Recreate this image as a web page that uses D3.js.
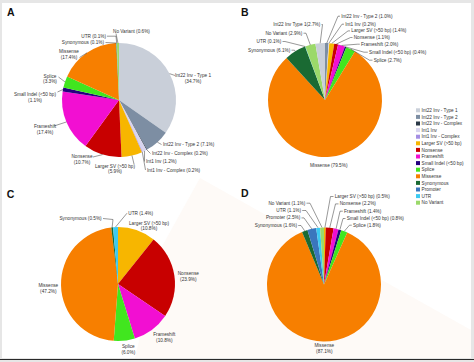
<!DOCTYPE html>
<html>
  <head>
    <meta charset="utf-8">
    <title>Variant pies</title>
    <style>
      body { margin: 0; }
      .lbl { font-family: "Liberation Sans", Arial, sans-serif; font-size: 4.7px; fill: #333; }
      .lead { fill: none; stroke: #333; stroke-width: 0.5px; }
      .letter { font-family: "Liberation Sans", Arial, sans-serif; font-size: 10.5px; font-weight: bold; fill: #111; }
    </style>
    <script src="https://cdn.jsdelivr.net/npm/d3@7"></script>
  </head>
  <body>
  <script type="text/javascript">
    // legend categories and their colours
    var legendCats = ["Int22 Inv - Type 1", "Int22 Inv - Type 2", "Int22 Inv - Complex", "Int1 Inv",
      "Int1 Inv - Complex", "Larger SV (>50 bp)", "Nonsense", "Frameshift", "Small Indel (<50 bp)",
      "Splice", "Missense", "Synonymous", "Promoter", "UTR", "No Variant"];
    var legendColors = ["#c9cfd9", "#7d8ea3", "#2b3947", "#d8d5ef", "#a48ee3", "#f7b600", "#c80000",
      "#f20fd2", "#23007f", "#41e61f", "#f77f00", "#1a6a33", "#3a76bd", "#3ccaf2", "#9bd96a"];

    // panel A
    var catsA = ["Int22 Inv - Type 1", "Int22 Inv - Type 2", "Int22 Inv - Complex", "Int1 Inv",
      "Int1 Inv - Complex", "Larger SV (>50 bp)", "Nonsense", "Frameshift", "Small Indel (<50 bp)",
      "Splice", "Missense", "Synonymous", "UTR", "No Variant"];
    var valsA = [34.7, 7.1, 0.2, 1.2, 0.2, 5.9, 10.7, 17.4, 1.1, 3.3, 17.4, 0.1, 0.1, 0.6];

    // panel B
    var catsB = ["Int22 Inv - Type 2", "Int1 Inv", "Larger SV (>50 bp)", "Nonsense", "Frameshift",
      "Small Indel (<50 bp)", "Splice", "Missense", "Synonymous", "UTR", "No Variant", "Int22 Inv - Type 1"];
    var valsB = [1.0, 0.2, 1.4, 1.1, 2.0, 0.4, 2.7, 79.5, 6.1, 0.1, 2.9, 2.7];

    // panel C
    var catsC = ["Larger SV (>50 bp)", "Nonsense", "Frameshift", "Splice", "Missense", "Synonymous", "UTR"];
    var valsC = [10.8, 23.9, 10.8, 6.0, 47.2, 0.5, 1.4];

    // panel D
    var catsD = ["Larger SV (>50 bp)", "Nonsense", "Frameshift", "Small Indel (<50 bp)", "Splice",
      "Missense", "Synonymous", "Promoter", "UTR", "No Variant"];
    var valsD = [0.5, 2.2, 1.4, 0.8, 1.8, 87.1, 1.6, 2.5, 1.1, 1.1];

    // label layout: [x, y, anchor, lines, leader, text override]
    var layA = [
      [193, 77, "middle", 2, [[175, 75.5]]],
      [163, 146, "start", 1, [[161.5, 144.5]]],
      [152, 155, "start", 1, [[150.5, 153.5]]],
      [146, 163, "start", 1, [[144.5, 161.5]]],
      [147, 171.5, "start", 1, [[145.5, 170]]],
      [115, 167.5, "middle", 2, [[134, 164]]],
      [82, 158.4, "middle", 2, [[93, 157]]],
      [45, 128.4, "middle", 2, [[54, 126]]],
      [35, 96, "middle", 2, [[57.5, 92]]],
      [50, 77.7, "middle", 2, [[58.5, 77]]],
      [69, 53.4, "middle", 2, [[79.5, 57.5]]],
      [104, 44, "end", 1, [[105.5, 42.5]]],
      [106, 37.7, "end", 1, [[116, 36.2], [107, 36.2]]],
      [113, 33.4, "start", 1, [[116, 33.5]]]
    ];
    var layB = [
      [341.3, 17.7, "start", 1, [[338, 16.2], [340, 16.2]]],
      [345.3, 25.7, "start", 1, [[342, 24.2], [344, 24.2]]],
      [351.3, 32.4, "start", 1, [[348, 30.9], [350, 30.9]]],
      [353.7, 39, "start", 1, [[350.5, 37.5], [352.5, 37.5]]],
      [361, 45.7, "start", 1, [[357.5, 44.2], [359.8, 44.2]]],
      [369, 53.7, "start", 1, [[364, 52.2], [367.8, 52.2]]],
      [373.7, 61.7, "start", 1, [[369.5, 60.2], [372.5, 60.2]]],
      [328.7, 166.7, "middle", 1, null],
      [290.3, 51.7, "end", 1, [[294.5, 50.2], [291.5, 50.2]]],
      [281.3, 43, "end", 1, [[285, 41.5], [282.5, 41.5]]],
      [302.3, 34.7, "end", 1, [[306, 33.2], [303.5, 33.2]]],
      [320.3, 26, "end", 1, [[322.5, 24.5], [321.5, 24.5]], "Int22 Inv Type 1(2.7%)"]
    ];
    var layC = [
      [149, 224.7, "middle", 2, null],
      [188.3, 275, "middle", 2, null],
      [164.3, 336, "middle", 2, null],
      [128.3, 348.4, "middle", 2, null],
      [48.3, 287.4, "middle", 2, null],
      [101.7, 220, "end", 1, [[113, 219.5], [103, 218.5]]],
      [128.3, 214.7, "start", 1, [[127, 213.2]]]
    ];
    var layD = [
      [334.7, 198, "start", 1, [[330.5, 196.5], [333.5, 196.5]]],
      [339.7, 205.4, "start", 1, [[335.5, 203.9], [338.5, 203.9]]],
      [344, 212.7, "start", 1, [[340, 211.2], [342.8, 211.2]]],
      [346.7, 220, "start", 1, [[343, 218.5], [345.5, 218.5]]],
      [353, 226.7, "start", 1, [[349.5, 225.2], [351.8, 225.2]]],
      [324.3, 347, "middle", 2, null],
      [297, 227, "end", 1, [[301, 225.5], [298.2, 225.5]]],
      [300.3, 219.4, "end", 1, [[304, 217.9], [301.5, 217.9]]],
      [301, 212, "end", 1, [[306, 210.5], [302.2, 210.5]]],
      [305.3, 204.7, "end", 1, [[310, 203.2], [306.5, 203.2]]]
    ];

    var width = 474, height = 362;
    var svg = d3.select("body").append("svg")
        .attr("width", width).attr("height", height);

    // frame and faint watermark
    svg.append("rect").attr("width", width).attr("height", height).attr("fill", "#e6e6e6");
    svg.append("rect").attr("x", 2).attr("y", 3).attr("width", 469).attr("height", 355).attr("fill", "#fff");
    svg.append("polygon")
        .attr("points", "200,178 471,330 471,358 135,358 160,250")
        .attr("fill", "#fefaf7");
    svg.append("line").attr("x1", 0).attr("x2", width).attr("y1", 359.5).attr("y2", 359.5)
        .attr("stroke", "#2a2a2a").attr("stroke-width", 1);

    var color = d3.scaleOrdinal().domain(legendCats).range(legendColors);
    var pie = d3.pie().sort(null).value(function(d){ return d.v; });

    function drawPie(cx, cy, r, cats, vals, lay) {
      var data = cats.map(function(c, i){ return {c: c, v: vals[i]}; });
      var arcs = pie(data);
      var arc = d3.arc().innerRadius(0).outerRadius(r);
      var edge = d3.arc().innerRadius(r).outerRadius(r);
      var g = svg.append("g").attr("transform", "translate(" + cx + "," + cy + ")");
      g.selectAll("path").data(arcs).enter().append("path")
        .attr("d", arc)
        .attr("fill", function(d){ return color(d.data.c); });

      arcs.forEach(function(d, i){
        var l = lay[i];
        var pct = "(" + d.data.v.toFixed(1) + "%)";
        if (l[4]) {
          var p = edge.centroid(d);
          var pts = [[cx + p[0], cy + p[1]]].concat(l[4]);
          svg.append("path").attr("class", "lead").attr("d", d3.line()(pts));
        }
        var t = svg.append("text").attr("class", "lbl")
          .attr("x", l[0]).attr("y", l[1]).attr("text-anchor", l[2]);
        if (l[5]) {
          t.text(l[5]);
        } else if (l[3] == 2) {
          t.append("tspan").attr("x", l[0]).text(d.data.c);
          t.append("tspan").attr("x", l[0]).attr("dy", 5.7).text(pct);
        } else {
          t.text(d.data.c + " " + pct);
        }
      });
    }

    drawPie(119, 100, 57, catsA, valsA, layA);
    drawPie(325, 100, 57, catsB, valsB, layB);
    drawPie(118, 284, 57, catsC, valsC, layC);
    drawPie(324, 284.5, 57, catsD, valsD, layD);

    // panel letters
    [["A", 7, 16], ["B", 241, 15.7], ["C", 6.7, 197.7], ["D", 241, 197.3]].forEach(function(a){
      svg.append("text").attr("class", "letter").attr("x", a[1]).attr("y", a[2]).text(a[0]);
    });

    // legend
    var leg = svg.append("g").selectAll("g").data(legendCats).enter().append("g")
      .attr("transform", function(d, i){ return "translate(416," + (110.3 + i * 6.6) + ")"; });
    leg.append("rect").attr("x", 0).attr("y", -2).attr("width", 4).attr("height", 4)
      .attr("fill", function(d){ return color(d); });
    leg.append("text").attr("class", "lbl").attr("x", 5.5).attr("y", 1.7).attr("fill", "#444").text(function(d){ return d; });
  </script>
  </body>
</html>
